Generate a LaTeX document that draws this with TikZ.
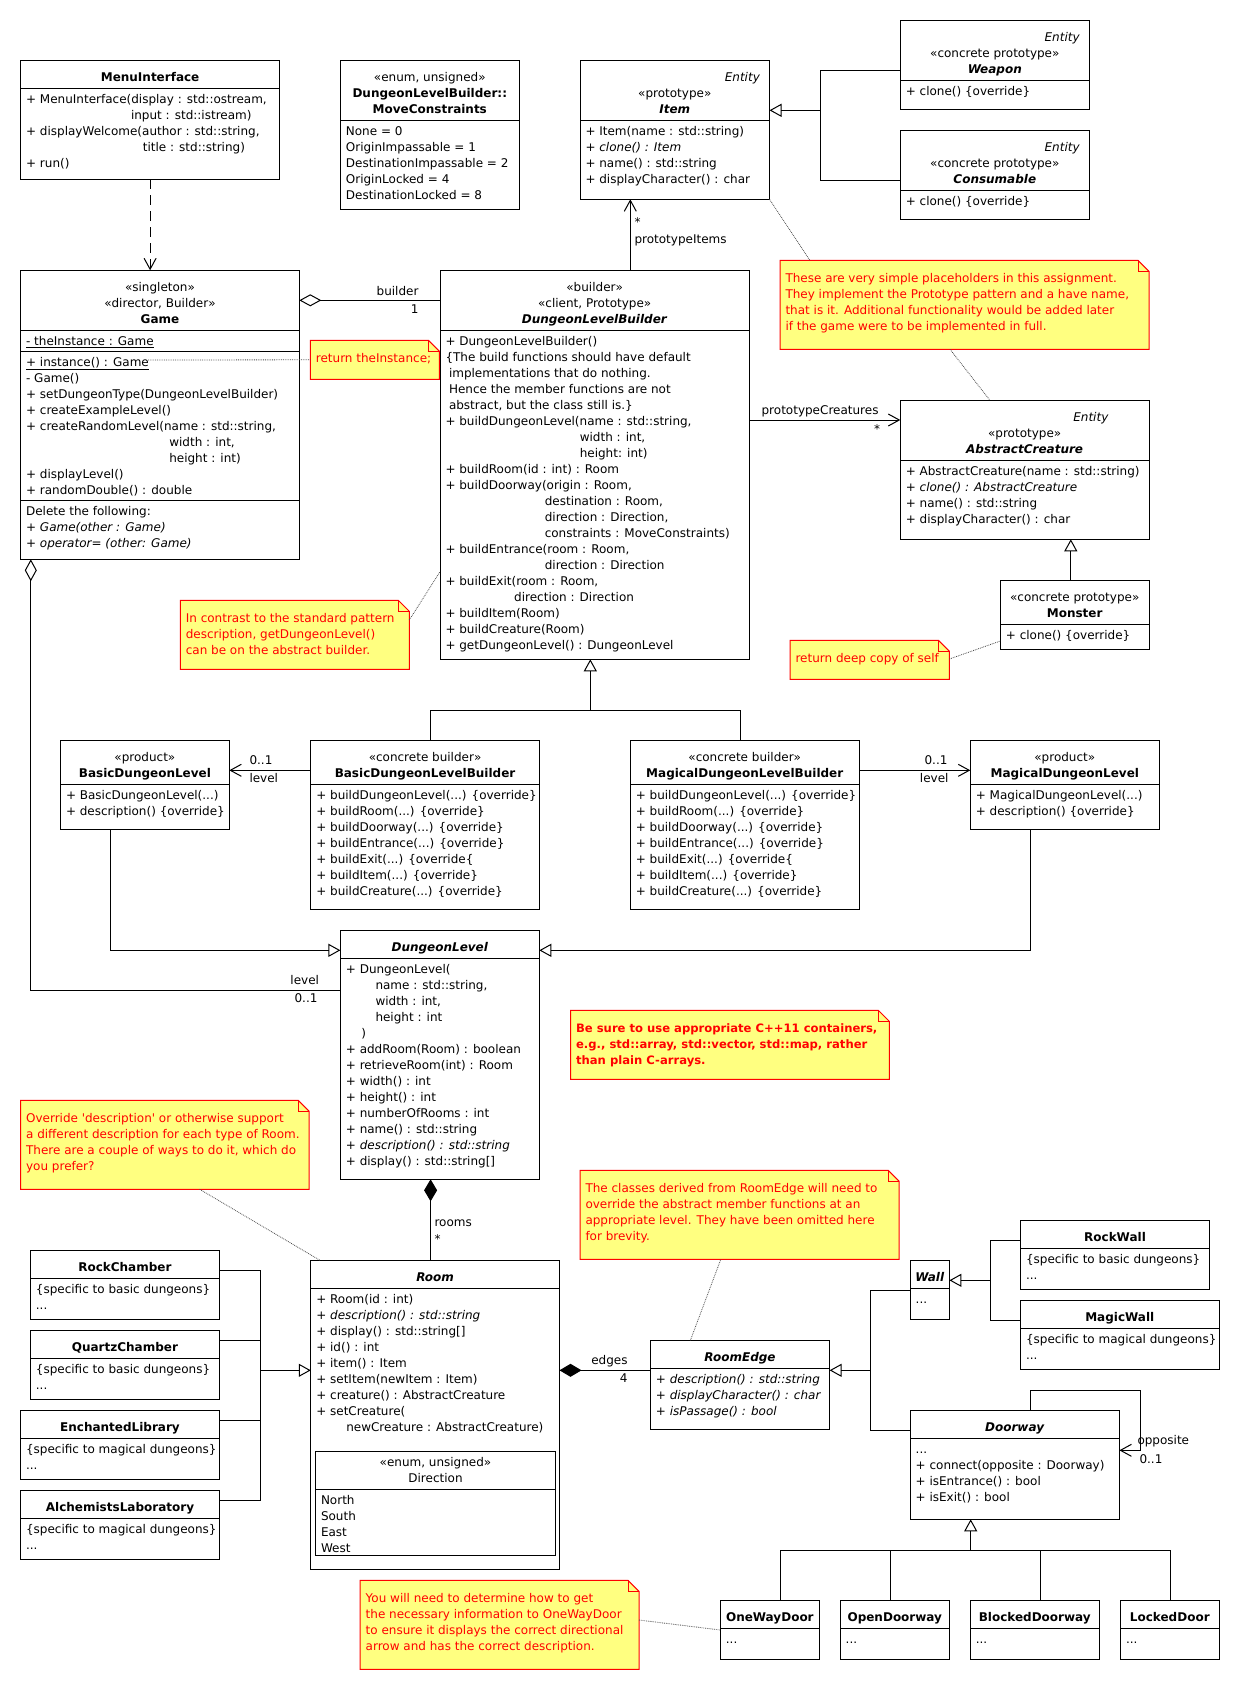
\documentclass[tikz,border=0pt]{standalone}
\usepackage{fontspec}
\setmainfont{DejaVu Sans}
\usepackage{tikz}
\usetikzlibrary{positioning,calc,arrows.meta}
\definecolor{notefill}{RGB}{255,255,128}
\definecolor{notered}{RGB}{255,0,0}
\newcommand{\umlfont}{\fontsize{12}{16}\selectfont}
\newcommand{\notebold}[1]{{\fontsize{11.6}{16}\selectfont\bfseries #1}}
\tikzstyle{classbox} = [draw, inner sep=0pt, outer sep=0pt, anchor=north west]
\tikzstyle{headtext} = [font=\umlfont, align=center, inner sep=0pt, anchor=south]
\tikzstyle{bodytext} = [font=\umlfont, align=left, inner sep=0pt, anchor=north west]
\tikzstyle{lbl} = [font=\umlfont, inner sep=0pt]
\tikzstyle{notebox} = [inner sep=0pt, outer sep=0pt, anchor=north west]
\tikzstyle{notetext} = [font=\umlfont, text=notered, align=left, inner sep=0pt, anchor=north west]
\tikzstyle{gen} = [-{Triangle[open, length=12pt, width=13pt]}]
\tikzstyle{assoc} = [-{Straight Barb[length=11pt, width=12pt]}]
\tikzstyle{dep} = [assoc, dash pattern=on 10pt off 6pt]
\tikzstyle{agg} = [{Diamond[open, length=22pt, width=12pt]}-]
\tikzstyle{comp} = [{Diamond[length=22pt, width=13pt]}-]
\tikzstyle{notelink} = [densely dotted, line width=0.8pt, black!70]
\newcommand{\umlclass}[7]{%
	\node[classbox, minimum width=#4pt, minimum height=#5pt] (#1) at (#2,#3) {};
	\draw ($(#1.north west)+(0,#6)$) -- ($(#1.north east)+(0,#6)$);
	\node[headtext] (#1-head) at ($(#1.north)+(0,#6-1.7)$) {#7\strut};
}
\newcommand{\umlpart}[4]{%
	\node[bodytext] (#1-#2) at ($(#1.north west)+(5,#3+3.3)$) {\strut#4};
}
\newcommand{\umlsep}[2]{%
	\draw ($(#1.north west)+(0,#2)$) -- ($(#1.north east)+(0,#2)$);
}
\newcommand{\umlentity}[2]{%
	\node[lbl, anchor=base east] (#1-entity) at ($(#1.north east)+(-#2,21.4)$) {\textit{Entity}};
}
\newcommand{\umlnote}[6]{%
	\node[notebox, minimum width=#4pt, minimum height=#5pt] (#1) at (#2,#3) {};
	\filldraw[fill=notefill, draw=notered] (#1.south west) -- (#1.north west) -- ([xshift=-11pt]#1.north east) -- ([yshift=-11pt]#1.north east) -- (#1.south east) -- cycle;
	\draw[notered] ([xshift=-11pt]#1.north east) |- ([yshift=-11pt]#1.north east);
	\node[notetext] (#1-text) at ($(#1.north west)+(5,10.2)$) {\strut#6};
}

\begin{document}
\begin{tikzpicture}[x=1pt, y=-1pt, line width=1pt]
	\path[use as bounding box, fill=white] (0,0) rectangle (1240,1690);

	% top row
	\umlclass{MI}{20.6}{60.3}{259}{119}{28}{\textbf{MenuInterface}}
	\umlpart{MI}{ops}{28}{+ MenuInterface(display : std::ostream,\\\hspace*{104.9pt}input : std::istream)\\+ displayWelcome(author : std::string,\\\hspace*{116.7pt}title : std::string)\\+ run()}
	\umlclass{MC}{340.4}{60.3}{178.8}{149}{60}{«enum, unsigned»\\\textbf{DungeonLevelBuilder::}\\\textbf{MoveConstraints}}
	\umlpart{MC}{vals}{60}{None = 0\\OriginImpassable = 1\\DestinationImpassable = 2\\OriginLocked = 4\\DestinationLocked = 8}
	\umlclass{Item}{580}{60.3}{189.5}{139}{60}{«prototype»\\\textbf{\textit{Item}}}
	\umlentity{Item}{9}
	\umlpart{Item}{ops}{60}{+ Item(name : std::string)\\+ \textit{clone() : Item}\\+ name() : std::string\\+ displayCharacter() : char}
	\umlclass{Weapon}{900.3}{20.3}{189}{88.7}{60}{«concrete prototype»\\\textbf{\textit{Weapon}}}
	\umlentity{Weapon}{9}
	\umlpart{Weapon}{ops}{60}{+ clone() \{override\}}
	\umlclass{Consumable}{900.3}{130.3}{189}{88.7}{60}{«concrete prototype»\\\textbf{\textit{Consumable}}}
	\umlentity{Consumable}{9}
	\umlpart{Consumable}{ops}{60}{+ clone() \{override\}}

	% director, builder, prototype
	\umlclass{Game}{20.6}{270.3}{278.7}{289}{60}{«singleton»\\«director, Builder»\\\textbf{Game}}
	\umlpart{Game}{attr}{60}{\underline{- theInstance : Game}}
	\umlsep{Game}{80.7}
	\umlpart{Game}{ops}{80.7}{\underline{+ instance() : Game}\\- Game()\\+ setDungeonType(DungeonLevelBuilder)\\+ createExampleLevel()\\+ createRandomLevel(name : std::string,\\\hspace*{143.2pt}width : int,\\\hspace*{143.2pt}height : int)\\+ displayLevel()\\+ randomDouble() : double}
	\umlsep{Game}{230}
	\umlpart{Game}{del}{230}{Delete the following:\\+ \textit{Game(other : Game)}\\+ \textit{operator= (other: Game)}}
	\umlclass{DLB}{440}{270.3}{309.3}{389}{60}{«builder»\\«client, Prototype»\\\textbf{\textit{DungeonLevelBuilder}}}
	\umlpart{DLB}{ops}{60}{+ DungeonLevelBuilder()\\\{The build functions should have default\\\hspace*{3.5pt}implementations that do nothing.\\\hspace*{3.5pt}Hence the member functions are not\\\hspace*{3.5pt}abstract, but the class still is.\}\\+ buildDungeonLevel(name : std::string,\\\hspace*{134.3pt}width : int,\\\hspace*{134.3pt}height: int)\\+ buildRoom(id : int) : Room\\+ buildDoorway(origin : Room,\\\hspace*{99.3pt}destination : Room,\\\hspace*{99.3pt}direction : Direction,\\\hspace*{99.3pt}constraints : MoveConstraints)\\+ buildEntrance(room : Room,\\\hspace*{99.3pt}direction : Direction\\+ buildExit(room : Room,\\\hspace*{68.7pt}direction : Direction\\+ buildItem(Room)\\+ buildCreature(Room)\\+ getDungeonLevel() : DungeonLevel}
	\umlclass{AC}{900.3}{400}{248.7}{139.3}{60.3}{«prototype»\\\textbf{\textit{AbstractCreature}}}
	\umlentity{AC}{40}
	\umlpart{AC}{ops}{60.3}{+ AbstractCreature(name : std::string)\\+ \textit{clone() : AbstractCreature}\\+ name() : std::string\\+ displayCharacter() : char}
	\umlclass{Monster}{1000.4}{580.3}{148.6}{69}{44}{«concrete prototype»\\\textbf{Monster}}
	\umlpart{Monster}{ops}{44}{+ clone() \{override\}}

	% concrete builders and products
	\umlclass{BDL}{60.5}{740.3}{168.8}{89}{44}{«product»\\\textbf{BasicDungeonLevel}}
	\umlpart{BDL}{ops}{44}{+ BasicDungeonLevel(...)\\+ description() \{override\}}
	\umlclass{BDLB}{310.8}{740.3}{228.5}{169}{44}{«concrete builder»\\\textbf{BasicDungeonLevelBuilder}}
	\umlpart{BDLB}{ops}{44}{+ buildDungeonLevel(...) \{override\}\\+ buildRoom(...) \{override\}\\+ buildDoorway(...) \{override\}\\+ buildEntrance(...) \{override\}\\+ buildExit(...) \{override\{\\+ buildItem(...) \{override\}\\+ buildCreature(...) \{override\}}
	\umlclass{MDLB}{630.3}{740.3}{228.9}{169}{44}{«concrete builder»\\\textbf{MagicalDungeonLevelBuilder}}
	\umlpart{MDLB}{ops}{44}{+ buildDungeonLevel(...) \{override\}\\+ buildRoom(...) \{override\}\\+ buildDoorway(...) \{override\}\\+ buildEntrance(...) \{override\}\\+ buildExit(...) \{override\{\\+ buildItem(...) \{override\}\\+ buildCreature(...) \{override\}}
	\umlclass{MDL}{970.3}{740.3}{189}{89}{44}{«product»\\\textbf{MagicalDungeonLevel}}
	\umlpart{MDL}{ops}{44}{+ MagicalDungeonLevel(...)\\+ description() \{override\}}
	\umlclass{DL}{340.4}{930.3}{198.9}{249}{28}{\textbf{\textit{DungeonLevel}}}
	\umlpart{DL}{ops}{28}{+ DungeonLevel(\\\hspace*{29.6pt}name : std::string,\\\hspace*{29.6pt}width : int,\\\hspace*{29.6pt}height : int\\\hspace*{15.4pt})\\+ addRoom(Room) : boolean\\+ retrieveRoom(int) : Room\\+ width() : int\\+ height() : int\\+ numberOfRooms : int\\+ name() : std::string\\+ \textit{description() : std::string}\\+ display() : std::string[]}

	% rooms and edges
	\umlclass{Room}{310.8}{1260.3}{248.7}{309}{28}{\textbf{\textit{Room}}}
	\umlpart{Room}{ops}{28}{+ Room(id : int)\\+ \textit{description() : std::string}\\+ display() : std::string[]\\+ id() : int\\+ item() : Item\\+ setItem(newItem : Item)\\+ creature() : AbstractCreature\\+ setCreature(\\\hspace*{30pt}newCreature : AbstractCreature)}
	\umlclass{Dir}{315.5}{1451.3}{240}{104}{38}{«enum, unsigned»\\Direction}
	\umlpart{Dir}{vals}{38}{North\\South\\East\\West}
	\umlclass{RockChamber}{30.4}{1250.3}{189}{69}{28}{\textbf{RockChamber}}
	\umlpart{RockChamber}{ops}{28}{\{specific to basic dungeons\}\\...}
	\umlclass{QuartzChamber}{30.4}{1330.3}{189}{69}{28}{\textbf{QuartzChamber}}
	\umlpart{QuartzChamber}{ops}{28}{\{specific to basic dungeons\}\\...}
	\umlclass{EnchantedLibrary}{20.6}{1410.3}{198.8}{69}{28}{\textbf{EnchantedLibrary}}
	\umlpart{EnchantedLibrary}{ops}{28}{\{specific to magical dungeons\}\\...}
	\umlclass{AlchemistsLab}{20.6}{1490.3}{198.8}{69}{28}{\textbf{AlchemistsLaboratory}}
	\umlpart{AlchemistsLab}{ops}{28}{\{specific to magical dungeons\}\\...}
	\umlclass{RoomEdge}{650.4}{1340.3}{179.2}{89}{28}{\textbf{\textit{RoomEdge}}}
	\umlpart{RoomEdge}{ops}{28}{+ \textit{description() : std::string}\\+ \textit{displayCharacter() : char}\\+ \textit{isPassage() : bool}}
	\umlclass{Wall}{910.2}{1260.3}{39.2}{59}{28}{\textbf{\textit{Wall}}}
	\umlpart{Wall}{ops}{28}{...}
	\umlclass{RockWall}{1020.5}{1220.3}{189}{69}{28}{\textbf{RockWall}}
	\umlpart{RockWall}{ops}{28}{\{specific to basic dungeons\}\\...}
	\umlclass{MagicWall}{1020.5}{1300.3}{198.5}{69}{28}{\textbf{MagicWall}}
	\umlpart{MagicWall}{ops}{28}{\{specific to magical dungeons\}\\...}
	\umlclass{Doorway}{910.2}{1410.3}{209.2}{109}{28}{\textbf{\textit{Doorway}}}
	\umlpart{Doorway}{ops}{28}{...\\+ connect(opposite : Doorway)\\+ isEntrance() : bool\\+ isExit() : bool}
	\umlclass{OneWayDoor}{720.4}{1600.3}{98.9}{59}{28}{\textbf{OneWayDoor}}
	\umlpart{OneWayDoor}{ops}{28}{...}
	\umlclass{OpenDoorway}{840.2}{1600.3}{109.2}{59}{28}{\textbf{OpenDoorway}}
	\umlpart{OpenDoorway}{ops}{28}{...}
	\umlclass{BlockedDoorway}{970.3}{1600.3}{128.9}{59}{28}{\textbf{BlockedDoorway}}
	\umlpart{BlockedDoorway}{ops}{28}{...}
	\umlclass{LockedDoor}{1120.6}{1600.3}{98.4}{59}{28}{\textbf{LockedDoor}}
	\umlpart{LockedDoor}{ops}{28}{...}

	% notes
	\umlnote{NInst}{310.4}{340.3}{129}{39}{return theInstance;}
	\umlnote{NProto}{780}{260.3}{369}{89}{These are very simple placeholders in this assignment.\\They implement the Prototype pattern and a have name,\\that is it. Additional functionality would be added later\\if the game were to be implemented in full.}
	\umlnote{NContrast}{180.3}{600.3}{229}{69}{In contrast to the standard pattern\\description, getDungeonLevel()\\can be on the abstract builder.}
	\umlnote{NCopy}{790}{640.3}{159.4}{39}{return deep copy of self}
	\umlnote{NBeSure}{570.6}{1010.3}{318.7}{69}{\notebold{Be sure to use appropriate C++11 containers,}\\\notebold{e.g., std::array, std::vector, std::map, rather}\\\notebold{than plain C-arrays.}}
	\umlnote{NOverride}{20.6}{1100.3}{288.6}{89}{Override \textquotesingle description\textquotesingle{} or otherwise support\\a different description for each type of Room.\\There are a couple of ways to do it, which do\\you prefer?}
	\umlnote{NClasses}{580}{1170.3}{319.2}{89}{The classes derived from RoomEdge will need to\\override the abstract member functions at an\\appropriate level. They have been omitted here\\for brevity.}
	\umlnote{NOneWay}{360.2}{1580.3}{278.8}{89}{You will need to determine how to get\\the necessary information to OneWayDoor\\to ensure it displays the correct directional\\arrow and has the correct description.}

	% associations
	\draw[dep] (MI.south) -- (MI.south |- Game.north);
	\draw[agg] (Game.east |- 0,300.3) -- (DLB.west |- 0,300.3);
	\node[lbl, anchor=base east] (lBuilder) at (419,295) {builder};
	\node[lbl, anchor=base east] (lBuilderM) at (419,313) {1};
	\draw[assoc] (DLB.north -| 630.3,0) -- (Item.south -| 630.3,0);
	\node[lbl, anchor=base west] (lItemsM) at (634,226.7) {*};
	\node[lbl, anchor=base west] (lItems) at (634,243.4) {prototypeItems};
	\draw[assoc] (DLB.east |- 0,420) -- (AC.west |- 0,420);
	\node[lbl, anchor=base east] (lCreatures) at (879,414.4) {prototypeCreatures};
	\node[lbl, anchor=base] (lCreaturesM) at (877,433.7) {*};
	\draw[assoc] (BDLB.west |- 0,770.3) -- (BDL.east |- 0,770.3);
	\node[lbl, anchor=base west] (lBasicM) at (249,764.4) {0..1};
	\node[lbl, anchor=base west] (lBasic) at (249,782.4) {level};
	\draw[assoc] (MDLB.east |- 0,770.3) -- (MDL.west |- 0,770.3);
	\node[lbl, anchor=base east] (lMagicM) at (948,764.4) {0..1};
	\node[lbl, anchor=base east] (lMagic) at (949,782.4) {level};
	\draw[agg] (Game.south -| 30.8,0) |- (DL.west |- 0,990.3);
	\node[lbl, anchor=base east] (lLevel) at (319.5,984.4) {level};
	\node[lbl, anchor=base east] (lLevelM) at (318,1002.4) {0..1};
	\draw[comp] (DL.south -| 430.6,0) -- (Room.north -| 430.6,0);
	\node[lbl, anchor=base west] (lRooms) at (434,1226.4) {rooms};
	\node[lbl, anchor=base west] (lRoomsM) at (434,1243.4) {*};
	\draw[comp] (Room.east |- 0,1370.3) -- (RoomEdge.west |- 0,1370.3);
	\node[lbl, anchor=base east] (lEdges) at (628,1364.4) {edges};
	\node[lbl, anchor=base east] (lEdgesM) at (628,1382.4) {4};
	\draw[assoc] (Doorway.north -| 1030.4,0) |- (1140.3,1390.3) |- (Doorway.east |- 0,1450.3);
	\node[lbl, anchor=base west] (lOpp) at (1137,1444.7) {opposite};
	\node[lbl, anchor=base west] (lOppM) at (1139,1463) {0..1};

	% generalizations
	\coordinate (itemJoin) at (820.5,110.3);
	\draw (Weapon.west |- 0,70.3) -| (itemJoin);
	\draw (Consumable.west |- 0,180.3) -| (itemJoin);
	\draw[gen] (itemJoin) -- (itemJoin -| Item.east);
	\draw[gen] (Monster.north -| 1070.8,0) -- (AC.south -| 1070.8,0);
	\coordinate (dlbJoin) at (590.3,710.3);
	\draw (BDLB.north -| 430.2,0) |- (dlbJoin);
	\draw (MDLB.north -| 740.2,0) |- (dlbJoin);
	\draw[gen] (dlbJoin) -- (dlbJoin |- DLB.south);
	\draw[gen] (BDL.south -| 110.3,0) |- (DL.west |- 0,950.3);
	\draw[gen] (MDL.south -| 1030.4,0) |- (DL.east |- 0,950.3);
	\coordinate (roomJoin) at (260.6,1370.3);
	\draw (RockChamber.east |- 0,1270.3) -| (roomJoin);
	\draw (QuartzChamber.east |- 0,1340.3) -| (roomJoin);
	\draw (EnchantedLibrary.east |- 0,1420.3) -| (roomJoin);
	\draw (AlchemistsLab.east |- 0,1500.3) -| (roomJoin);
	\draw[gen] (roomJoin) -- (roomJoin -| Room.west);
	\coordinate (edgeJoin) at (870.3,1370.3);
	\draw (Wall.west |- 0,1290.3) -| (edgeJoin);
	\draw (Doorway.west |- 0,1430.3) -| (edgeJoin);
	\draw[gen] (edgeJoin) -- (edgeJoin -| RoomEdge.east);
	\coordinate (wallJoin) at (990.5,1280.3);
	\draw (RockWall.west |- 0,1240.3) -| (wallJoin);
	\draw (MagicWall.west |- 0,1320.3) -| (wallJoin);
	\draw[gen] (wallJoin) -- (wallJoin -| Wall.east);
	\coordinate (doorJoin) at (970.7,1550.3);
	\draw (OneWayDoor.north -| 780.5,0) |- (doorJoin);
	\draw (OpenDoorway.north -| 890.5,0) |- (doorJoin);
	\draw (BlockedDoorway.north -| 1040.3,0) |- (doorJoin);
	\draw (LockedDoor.north -| 1170,0) |- (doorJoin);
	\draw[gen] (doorJoin) -- (doorJoin |- Doorway.south);

	% note links
	\coordinate (instEnd) at (148,360);
	\draw[notelink] (instEnd) -- (NInst.west);
	\draw[notelink] (Item.south east) -- (NProto.north -| 809.8,0);
	\draw[notelink] (NProto.south -| 950,0) -- (AC.north -| 989.7,0);
	\draw[notelink] (NContrast.east |- 0,620) -- (DLB.west |- 0,571.7);
	\draw[notelink] (NCopy.east |- 0,659) -- (Monster.west |- 0,641);
	\draw[notelink] (NOverride.south -| 199.7,0) -- (Room.north -| 320,0);
	\draw[notelink] (RoomEdge.north -| 690.4,0) -- (NClasses.south -| 720.8,0);
	\draw[notelink] (NOneWay.east |- 0,1620) -- (OneWayDoor.west |- 0,1630);
\end{tikzpicture}
\end{document}
